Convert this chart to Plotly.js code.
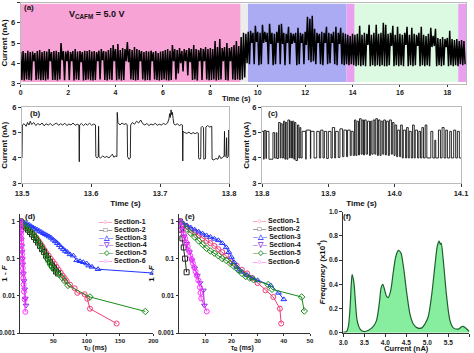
<!DOCTYPE html>
<html><head><meta charset="utf-8">
<script src="https://cdn.plot.ly/plotly-3.0.1.min.js"></script>
<style>html,body{margin:0;padding:0;background:#fff}#chart{width:474px;height:353px}</style>
</head><body><div id="chart"></div>
<script>
// ---------- (a) full trace, 0.1 s bins: top and bottom of each bin ----------
const aBinSeconds = 0.1;
const aHi = [
4.55,4.6,4.5,4.62,4.55,4.58,4.5,4.6,4.65,4.55,
4.6,4.58,4.7,4.55,4.6,4.62,4.55,5.0,4.6,4.58,
4.62,4.55,4.6,4.7,4.58,4.6,4.55,4.62,4.6,4.65,
4.58,4.6,4.55,4.62,4.7,4.6,4.58,4.65,4.75,4.9,
4.7,4.95,4.65,4.75,4.7,5.05,4.7,4.65,4.8,4.7,
4.65,4.6,4.55,4.6,4.58,4.62,4.55,4.6,4.5,4.58,
4.6,4.65,4.7,4.62,4.9,4.7,4.65,4.75,4.6,4.7,
4.65,4.75,4.7,4.9,4.7,4.65,4.75,4.7,4.8,4.7,
4.75,4.7,5.1,4.8,5.2,4.75,4.8,5.0,4.75,4.8,
4.9,5.1,4.85,
5.3,5.5,5.45,
5.55,5.6,5.5,5.85,5.55,5.5,5.9,5.55,5.5,5.95,
5.5,5.45,5.55,5.9,5.95,5.5,5.45,5.8,5.5,5.45,
5.5,5.75,5.5,5.45,5.55,6.3,6.2,6.35,5.7,5.5,
5.45,5.55,5.5,5.8,5.5,5.45,5.55,5.8,5.5,5.75,
5.5,5.45,
5.4,5.35,5.45,
5.4,5.45,5.85,5.4,5.5,5.45,5.9,5.4,5.5,5.9,
5.45,5.5,6.0,5.9,5.45,5.5,5.85,5.4,5.8,5.45,
5.4,5.5,5.8,5.4,5.75,5.45,5.4,5.5,5.8,5.4,
5.35,5.45,5.75,5.35,5.7,5.25,5.2,5.3,5.2,5.25,
5.6,5.2,5.15,5.2,
5.1,5.15,5.1];
const aLo = [
3.18,3.15,3.2,3.17,3.15,4.1,3.18,3.2,3.16,3.18,
3.15,3.2,4.1,3.17,3.18,3.15,3.2,4.15,3.16,4.1,
3.18,4.1,3.15,3.2,3.17,4.05,3.15,3.18,3.2,3.16,
3.15,3.18,4.1,3.2,4.15,3.17,3.15,3.2,3.18,4.1,
3.16,3.2,3.15,3.18,4.1,4.05,3.2,3.17,3.15,3.18,
4.1,3.2,3.15,3.18,3.16,4.1,3.2,3.17,3.15,3.18,
3.2,3.16,3.15,3.18,4.1,3.2,3.5,4.0,3.6,4.1,
3.4,4.05,3.18,3.2,3.15,4.1,3.17,4.1,3.2,3.16,
3.18,3.2,3.15,3.17,3.2,4.1,3.18,3.15,4.1,3.2,
3.17,3.2,3.18,
3.2,3.3,4.0,
3.95,5.0,3.95,5.05,3.9,3.95,5.0,5.05,3.95,4.95,
3.9,3.95,5.0,3.95,4.95,3.9,5.0,3.95,4.95,5.0,
3.9,3.95,5.0,3.95,4.9,4.15,4.05,4.1,3.95,5.0,
3.95,3.9,5.0,3.95,4.0,5.0,3.95,3.9,4.95,3.95,
3.9,3.95,
3.9,3.95,3.9,
3.85,3.9,3.85,3.9,3.85,4.9,3.85,3.9,3.85,3.9,
3.85,3.9,3.85,3.85,3.9,4.85,3.85,3.9,3.85,3.9,
3.85,4.9,3.85,3.9,3.85,3.9,4.85,3.85,3.9,3.85,
3.9,3.85,4.8,4.85,3.85,3.9,3.85,3.9,4.8,3.85,
3.9,3.85,3.9,3.85,
3.95,3.9,3.95];
// section boundaries (s) and shading colours of panel (a)
const regionStart = [0, 9.28, 9.59, 13.75, 14.09, 18.46];
const regionEnd   = [9.28, 9.59, 13.75, 14.09, 18.46, 18.8];
const regionColor = ['#f8a3d5', '#ececec', '#ababf4', '#e9a0ef', '#dcf9e2', '#e9a0ef'];

// ---------- (b) zoom 13.5 - 13.8 s ----------
const tB = [
13.500,13.5005,13.503,13.506,13.508,13.510,13.512,13.514,13.517,13.520,
13.523,13.526,13.529,13.532,13.535,13.538,13.541,13.544,13.547,13.550,
13.553,13.556,13.559,13.562,13.565,13.568,13.571,13.574,13.577,13.580,
13.5825,13.583,13.5835,13.586,13.589,13.592,13.595,13.598,13.601,13.604,
13.6065,13.607,13.609,13.6105,13.611,13.6115,13.614,13.617,13.620,13.623,
13.626,13.629,13.631,13.633,13.636,13.6375,13.638,13.639,13.642,13.645,
13.648,13.651,13.6525,13.653,13.655,13.657,13.6575,13.660,13.663,13.666,
13.669,13.672,13.675,13.678,13.681,13.684,13.687,13.690,13.693,13.696,
13.699,13.702,13.705,13.708,13.711,13.713,13.714,13.715,13.716,13.717,
13.718,13.719,13.720,13.722,13.725,13.728,13.731,13.7325,13.733,13.7335,
13.736,13.739,13.742,13.745,13.748,13.751,13.754,13.7555,13.756,13.758,
13.759,13.7595,13.761,13.763,13.7635,13.766,13.7665,13.769,13.772,13.775,
13.7755,13.778,13.781,13.784,13.786,13.788,13.791,13.793,13.7935,13.794,
13.796,13.7965,13.797,13.799,13.7995,13.800];
const iB = [
4.0,5.3,5.35,5.25,5.4,5.3,5.45,5.32,5.4,5.28,
5.36,5.3,5.38,5.27,5.35,5.3,5.36,5.28,5.33,5.38,
5.29,5.35,5.3,5.37,5.28,5.34,5.3,5.38,5.29,5.33,
5.3,3.85,5.3,5.36,5.28,5.35,5.3,5.37,5.29,5.34,
5.3,4.05,4.0,4.05,5.25,4.05,4.0,4.08,4.02,4.06,
4.0,4.07,4.15,4.03,4.08,4.05,5.8,5.4,5.3,5.38,
5.32,5.36,5.3,4.05,3.95,4.0,5.3,5.4,5.33,5.45,
5.38,5.5,5.35,5.3,5.36,5.28,5.34,5.3,5.37,5.29,
5.33,5.3,5.36,5.32,5.38,5.55,5.75,5.6,5.9,5.7,
5.8,5.55,5.35,5.3,5.35,5.28,5.32,5.3,3.88,5.05,
5.0,4.97,5.02,4.95,5.0,4.96,5.0,4.98,3.98,3.95,
4.0,5.2,5.25,5.2,3.95,3.98,5.22,5.28,5.22,5.25,
3.95,3.92,3.98,3.95,4.1,3.98,4.02,4.1,5.05,4.05,
4.1,4.8,4.0,4.05,5.1,5.05];

// ---------- (c) zoom 13.8 - 14.1 s : dwell start times and dwell levels ----------
const cStart = [
13.8000,13.8025,13.8032,13.8060,13.8066,13.8105,13.8165,13.8190,13.8215,13.8225,
13.8250,13.8275,13.8285,13.8305,13.8325,13.8345,13.8355,13.8375,13.8390,13.8415,
13.8425,13.8445,13.8460,13.8480,13.8490,13.8510,13.8535,13.8555,13.8570,13.8585,
13.8605,13.8660,13.8665,13.8730,13.8735,13.8785,13.8825,13.8865,13.8885,13.8920,
13.8940,13.8975,13.9000,13.9040,13.9060,13.9095,13.9110,13.9150,13.9175,13.9215,
13.9235,13.9275,13.9290,13.9330,13.9345,13.9375,13.9395,13.9415,13.9430,13.9455,
13.9470,13.9495,13.9510,13.9530,13.9545,13.9570,13.9590,13.9620,13.9635,13.9655,
13.9675,13.9700,13.9715,13.9740,13.9755,13.9780,13.9795,13.9820,13.9835,13.9860,
13.9875,13.9905,13.9920,13.9950,13.9965,13.9990,14.0005,14.0030,14.0045,14.0075,
14.0090,14.0115,14.0130,14.0165,14.0180,14.0205,14.0220,14.0250,14.0270,14.0295,
14.0310,14.0345,14.0365,14.0390,14.0410,14.0435,14.0460,14.0485,14.0545,14.0575,
14.0605,14.0620,14.0660,14.0690,14.0715,14.0745,14.0770,14.0795,14.0830,14.0855,
14.0890,14.0920,14.0945,14.0975];
const cEnd = 14.100;
const cLevel = [
5.05,3.95,5.08,3.98,5.05,3.95,5.0,4.0,5.0,3.98,
5.4,4.0,5.35,4.0,5.45,3.95,5.4,3.95,5.5,4.0,
5.45,4.0,5.45,3.95,5.4,3.9,5.3,4.0,5.2,4.0,
5.05,3.95,5.1,3.98,5.05,4.0,5.05,4.0,5.1,4.0,
5.05,3.98,5.05,4.0,5.2,4.0,5.05,4.02,5.15,4.05,
5.1,4.05,5.1,4.1,5.05,4.1,5.5,4.1,5.45,4.12,
5.55,4.15,5.5,4.12,5.5,4.15,5.45,4.1,5.45,4.15,
5.5,4.15,5.55,4.1,5.5,4.1,5.45,4.15,5.5,4.12,
5.45,4.1,5.5,4.15,5.4,4.1,5.3,4.05,5.1,4.05,
5.3,4.0,5.1,4.0,5.2,4.0,5.05,4.0,5.3,4.0,
5.1,4.0,5.05,4.0,5.2,4.0,5.3,4.0,5.05,4.0,
4.7,4.0,5.1,4.0,5.2,4.0,5.1,4.0,5.05,4.0,
5.1,4.0,5.05,4.0];

// ---------- (d) and (e) : 1 - F versus dwell time ----------
const sectionNames = ['Section-1','Section-2','Section-3','Section-4','Section-5','Section-6'];
const dSec1X = [1,4,7,10,13,16,19,22,25,28,31,34,37,40,43,46,49,52,55,58,61,64,67,70,75,82,86,97,101,105,145];
const dSec1Y = [1,0.9,0.8,0.7,0.62,0.55,0.48,0.42,0.36,0.3,0.25,0.21,0.17,0.14,0.12,0.1,0.085,0.072,0.06,0.05,0.042,0.035,0.03,0.025,0.02,0.016,0.012,0.011,0.0083,0.0045,0.0018];
const dSec2X = [1,3,6,9,12,15,18,21,24,27,30,33,36,39,42,45,48,51,54,57];
const dSec2Y = [1,0.9,0.78,0.68,0.6,0.52,0.45,0.38,0.32,0.27,0.22,0.18,0.15,0.12,0.1,0.08,0.065,0.055,0.045,0.04];
const dSec3X = [2,5,8,11,14,17,20,23,26,29,32,35,38,41,44,47,50,53,56,59,62,65,68,71,75,80,85,90,95,100,103,108,117,199];
const dSec3Y = [1,0.95,0.9,0.85,0.8,0.74,0.68,0.63,0.6,0.55,0.52,0.48,0.45,0.42,0.39,0.36,0.32,0.29,0.26,0.23,0.2,0.18,0.16,0.15,0.13,0.12,0.09,0.085,0.08,0.074,0.065,0.06,0.052,0.041];
const dSec4X = [0.5,1,1.5,2,2.5,3,3.5,4,5,6,7,8,9];
const dSec4Y = [1,0.7,0.5,0.33,0.22,0.15,0.1,0.07,0.04,0.025,0.015,0.0085,0.0055];
const dSec5X = [1,4,7,10,13,16,19,22,25,28,31,34,37,40,42,44,46,48,51,55,59,63,67,72,105,188];
const dSec5Y = [1,0.88,0.78,0.68,0.6,0.53,0.47,0.4,0.33,0.27,0.22,0.18,0.14,0.11,0.095,0.08,0.068,0.06,0.052,0.044,0.037,0.031,0.025,0.019,0.0093,0.0038];
const dSec6X = [0.3,0.6,0.9,1.2,1.5,1.8,2.1,2.4,2.7,3,3.4,3.8,4.2,4.6,5,5.5,6,7,8];
const dSec6Y = [1,0.85,0.7,0.55,0.45,0.35,0.28,0.22,0.17,0.13,0.1,0.075,0.055,0.04,0.03,0.02,0.013,0.008,0.0037];

const eSec1X = [0.3,1.5,3,4.5,6,7.5,9,10.5,12,13.5,15,16.5,18,20,22,24,26,28,30,33,36,38.5,39];
const eSec1Y = [1,0.85,0.72,0.6,0.5,0.42,0.35,0.3,0.26,0.22,0.18,0.15,0.12,0.08,0.065,0.05,0.04,0.03,0.022,0.014,0.0093,0.0045,0.0018];
const eSec2X = [0.3,0.8,1.3,1.8,2.3,2.9];
const eSec2Y = [1,0.6,0.35,0.2,0.1,0.043];
const eSec3X = [0.3,1.5,3,4.5,6,7.5,9,10.5,12,13.5,15,16.5,18,19,20,21,22,23,24,26,28,30,35,38,40];
const eSec3Y = [1,0.9,0.78,0.68,0.6,0.53,0.47,0.42,0.38,0.34,0.31,0.26,0.2,0.15,0.11,0.08,0.06,0.05,0.044,0.036,0.03,0.026,0.019,0.012,0.008];
const eSec4X = [0.3,1,2,3,4,5,6,7,8,9.3,9.7];
const eSec4Y = [1,0.65,0.4,0.25,0.15,0.09,0.055,0.035,0.022,0.014,0.0055];
const eSec5X = [0.3,1.5,3,4.5,6,7.5,9,10.5,12,13.5,15,16.5,18,19.5,21,22.5,24,25.5,27,28.5,34,35.5,46.8,47.8];
const eSec5Y = [1,0.8,0.62,0.48,0.38,0.3,0.24,0.19,0.16,0.14,0.12,0.1,0.09,0.075,0.062,0.05,0.04,0.033,0.03,0.027,0.02,0.015,0.0093,0.0039];
const eSec6X = [0.3,0.8,1.3,1.8,2.3,2.8,3.3,3.8,4.3,4.8,5.3,5.8,6.3,6.8,7.4,8,8.2,8.5,10.6];
const eSec6Y = [1,0.75,0.58,0.45,0.35,0.27,0.21,0.16,0.12,0.095,0.075,0.058,0.045,0.035,0.026,0.017,0.012,0.0085,0.0038];

// ---------- (f) current histogram ----------
const fCurrent = [3.0,3.05,3.08,3.12,3.16,3.19,3.21,3.25,3.29,3.33,3.40,3.48,3.6,3.71,3.79,3.86,3.9,3.94,3.98,4.03,4.07,4.13,4.19,4.25,4.31,4.37,4.43,4.51,4.59,4.67,4.76,4.87,4.94,5.02,5.10,5.18,5.24,5.28,5.31,5.33,5.38,5.46,5.54,5.62,5.74,5.82,5.87,5.94,6.0];
const fFreq = [0.005,0.006,0.01,0.05,0.2,0.4,0.48,0.42,0.25,0.1,0.03,0.01,0.02,0.05,0.1,0.25,0.37,0.40,0.36,0.30,0.29,0.35,0.5,0.63,0.68,0.66,0.55,0.33,0.15,0.07,0.04,0.04,0.07,0.13,0.3,0.55,0.72,0.757,0.73,0.74,0.6,0.3,0.1,0.04,0.03,0.05,0.05,0.03,0.01];

// ================= build =================
const W = 474, H = 353;
const px = v => v / W, py = v => 1 - v / H;
const FONT = 'Liberation Sans, Arial, sans-serif';
const secColor = ['#f03c78', '#222222', '#2233ff', '#8a2be2', '#1a8c1a', '#ff33ff'];
const secSymbol = ['circle-open', 'square-open', 'triangle-up-open', 'triangle-down-open', 'diamond-open', 'circle-open'];
const secGlyph = ['○', '□', '△', '▽', '◇', '○'];

const aX = [], aY = [];
for (let i = 0; i < aHi.length; i++) {
  aX.push(i * aBinSeconds); aY.push(aHi[i]);
  aX.push(i * aBinSeconds + aBinSeconds / 2); aY.push(aLo[i]);
}
const cX = [], cY = [];
for (let k = 0; k < cStart.length; k++) {
  const s = cStart[k], e = k + 1 < cStart.length ? cStart[k + 1] : cEnd;
  cX.push(s, e); cY.push(cLevel[k], cLevel[k]);
}

const traces = [
  {x: aX, y: aY, xaxis: 'x', yaxis: 'y', mode: 'lines', line: {color: '#000', width: 1.5}},
  {x: tB, y: iB, xaxis: 'x2', yaxis: 'y2', mode: 'lines', line: {color: '#111', width: 0.9}},
  {x: cX, y: cY, xaxis: 'x3', yaxis: 'y3', mode: 'lines', line: {color: '#111', width: 0.9}}
];
const dXs = [dSec1X, dSec2X, dSec3X, dSec4X, dSec5X, dSec6X];
const dYs = [dSec1Y, dSec2Y, dSec3Y, dSec4Y, dSec5Y, dSec6Y];
const eXs = [eSec1X, eSec2X, eSec3X, eSec4X, eSec5X, eSec6X];
const eYs = [eSec1Y, eSec2Y, eSec3Y, eSec4Y, eSec5Y, eSec6Y];
for (let s = 0; s < 6; s++) {
  traces.push({x: dXs[s], y: dYs[s], xaxis: 'x4', yaxis: 'y4', name: sectionNames[s], mode: 'lines+markers',
    line: {color: secColor[s], width: 1}, marker: {symbol: secSymbol[s], size: 5, color: secColor[s], line: {width: 1}}});
}
for (let s = 0; s < 6; s++) {
  traces.push({x: eXs[s], y: eYs[s], xaxis: 'x5', yaxis: 'y5', name: sectionNames[s], mode: 'lines+markers',
    line: {color: secColor[s], width: 1}, marker: {symbol: secSymbol[s], size: 5, color: secColor[s], line: {width: 1}}});
}
traces.push({x: fCurrent, y: fFreq, xaxis: 'x6', yaxis: 'y6', mode: 'lines', fill: 'tozeroy',
  fillcolor: '#86ee9e', line: {color: '#1f5f2f', width: 1.2, shape: 'spline', smoothing: 0.8}});

const tickFont = {family: FONT, size: 7.5, color: '#222', weight: 'bold'};
const smallTickFont = {family: FONT, size: 6.5, color: '#222', weight: 'bold'};
const titleFont = {family: FONT, size: 8, color: '#111', weight: 'bold'};
const smallTitleFont = {family: FONT, size: 7.5, color: '#111', weight: 'bold'};
function ax(domain, range, extra) {
  return Object.assign({domain: domain, range: range, ticks: 'outside', ticklen: 3, tickwidth: 1, tickcolor: '#333',
    showgrid: false, zeroline: false, showline: true, linecolor: '#bbb', linewidth: 1, mirror: true,
    tickfont: tickFont, fixedrange: true}, extra || {});
}
const darkLine = {linecolor: '#333', mirror: false};

const shapes = regionStart.map((s, i) => ({type: 'rect', xref: 'x', yref: 'y', x0: s, x1: regionEnd[i],
  y0: 3.08, y1: 6.94, fillcolor: regionColor[i], line: {width: 0}, layer: 'below'}));

function ann(text, x, y, size, xanchor) {
  return {text: text, xref: 'paper', yref: 'paper', x: px(x), y: py(y), showarrow: false, borderpad: 0,
    xanchor: xanchor || 'left', yanchor: 'middle', font: {family: FONT, size: size || 8, color: '#111', weight: 'bold'}};
}
const annotations = [
  ann('(a)', 23, 8), ann('V<sub>CAFM</sub> = 5.0 V', 68, 15, 9),
  ann('Time (s)', 236.5, 98.3, 7.5, 'center'),
  ann('τ<sub>U</sub> (ms)', 95, 348, 6.8, 'center'),
  ann('τ<sub>B</sub> (ms)', 243, 348, 6.8, 'center'),
  ann('(b)', 29, 113), ann('(c)', 267, 114), ann('(d)', 24, 216), ann('(e)', 184, 216), ann('(f)', 342, 216)
];
for (let s = 0; s < 6; s++) {
  const glyph = '<span style="color:' + secColor[s] + ';font-size:6.5px">─' + secGlyph[s] + '─</span> ' + sectionNames[s];
  annotations.push(ann(glyph, 97, 221.3 + s * 7.9, 7));
  annotations.push(ann(glyph, 251, 220.7 + s * 8.1, 7));
}

const layout = {
  width: W, height: H, margin: {l: 0, r: 0, t: 0, b: 0}, showlegend: false,
  paper_bgcolor: '#fff', plot_bgcolor: '#fff', font: {family: FONT},
  xaxis: ax([px(20.7), px(466.3)], [0, 18.8], {anchor: 'y', dtick: 2, ticklen: 2, tickfont: {family: FONT, size: 7, color: '#222', weight: 'bold'}}),
  yaxis: ax([py(83.5), py(2.5)], [3, 7], {anchor: 'x', dtick: 1, title: {text: 'Current (nA)', font: titleFont, standoff: 3}}),
  xaxis2: ax([px(22), px(229)], [13.5, 13.8], {anchor: 'y2', dtick: 0.1, tickformat: '.1f', title: {text: 'Time (s)', font: titleFont, standoff: 3}}),
  yaxis2: ax([py(183.3), py(107.3)], [3, 6], {anchor: 'x2', dtick: 1, title: {text: 'Current (nA)', font: titleFont, standoff: 3}}),
  xaxis3: ax([px(262), px(461)], [13.8, 14.1], {anchor: 'y3', dtick: 0.1, tickformat: '.1f', title: {text: 'Time (s)', font: titleFont, standoff: 3}}),
  yaxis3: ax([py(183.3), py(107.3)], [3, 6], {anchor: 'x3', dtick: 1, title: {text: 'Current (nA)', font: titleFont, standoff: 1}}),
  xaxis4: ax([px(20), px(153.3)], [0, 200], Object.assign({anchor: 'y4', tickvals: [50, 100, 150, 200], ticklen: 2, tickfont: {family: FONT, size: 6.2, color: '#222', weight: 'bold'}}, darkLine)),
  yaxis4: ax([py(333), py(214)], [-3, 0.2], Object.assign({anchor: 'x4', type: 'log', ticklen: 2.5, tickfont: smallTickFont, tickvals: [0.001, 0.01, 0.1, 1], ticktext: ['0.001', '0.01', '0.1', '1'], title: {text: '1 - <i>F</i>', font: titleFont, standoff: 2}}, darkLine)),
  xaxis5: ax([px(179), px(310)], [0, 50], Object.assign({anchor: 'y5', tickvals: [10, 20, 30, 40, 50], ticklen: 2, tickfont: {family: FONT, size: 6.2, color: '#222', weight: 'bold'}}, darkLine)),
  yaxis5: ax([py(333), py(214)], [-3, 0.2], Object.assign({anchor: 'x5', type: 'log', ticklen: 2.5, tickfont: smallTickFont, tickvals: [0.001, 0.01, 0.1, 1], ticktext: ['0.001', '0.01', '0.1', '1'], title: {text: '1 - <i>F</i>', font: titleFont, standoff: 2}}, darkLine)),
  xaxis6: ax([px(343.3), px(469.3)], [3, 6], Object.assign({anchor: 'y6', dtick: 0.5, tickformat: '.1f', tickfont: smallTickFont, title: {text: 'Current (nA)', font: smallTitleFont, standoff: 2}}, darkLine)),
  yaxis6: ax([py(332.7), py(211.7)], [0, 1], Object.assign({anchor: 'x6', dtick: 0.2, tickformat: '.1f', tickfont: smallTickFont, title: {text: '<i>Frequency</i> (x10<sup>4</sup>)', font: titleFont, standoff: 2}}, darkLine)),
  shapes: shapes, annotations: annotations
};
Plotly.newPlot('chart', traces, layout, {staticPlot: true, displayModeBar: false});
</script></body></html>
